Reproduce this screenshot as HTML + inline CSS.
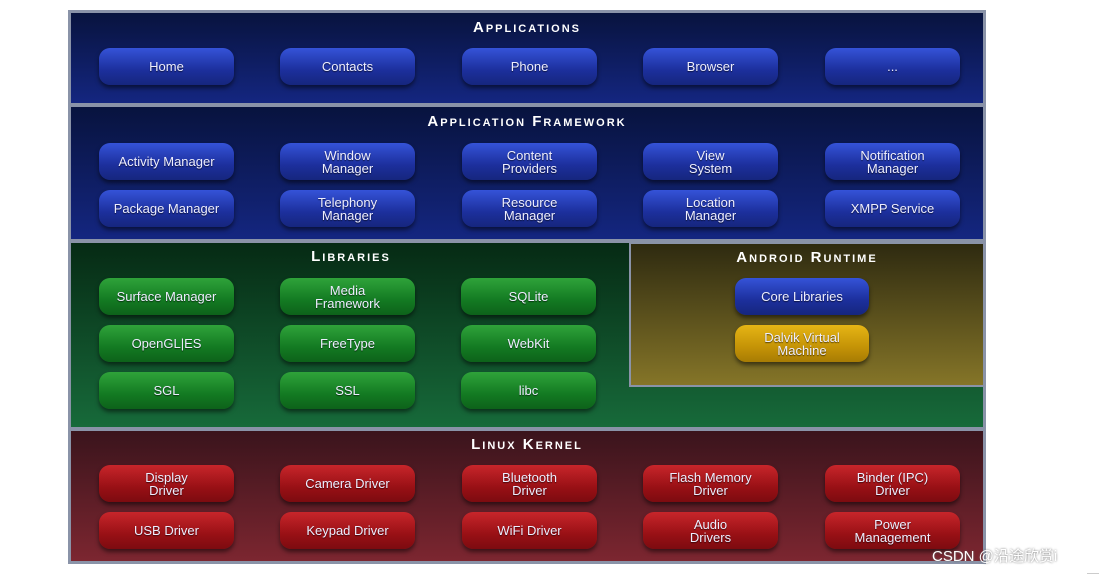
<!DOCTYPE html>
<html><head><meta charset="utf-8"><style>
body{margin:0;width:1099px;height:576px;background:#fff;position:relative;overflow:hidden;font-family:"Liberation Sans","Noto Sans CJK SC",sans-serif}
.sec{position:absolute;box-sizing:border-box;border:2px solid #8a93a8}
.t{position:absolute;left:0;right:0;text-align:center;color:#fff;font-weight:bold;font-size:15px;letter-spacing:2px;font-variant:small-caps}
.b{position:absolute;width:135px;height:37px;border-radius:11px;color:#eef;font-size:13px;line-height:13px;display:flex;align-items:center;justify-content:center;text-align:center;box-shadow:0 3px 4px rgba(0,0,0,.5);text-shadow:0 1px 1px rgba(0,0,0,.6)}
.bl{background:linear-gradient(#3553d8,#1c2f9c 60%,#16267e)}
.gr{background:linear-gradient(#2fa33a,#137a22 60%,#0d621a)}
.rd{background:linear-gradient(#c7262b,#991015 60%,#7c0b10)}
.yl{background:linear-gradient(#e6b515,#c49306 60%,#a77c04)}
</style></head><body>
<div style="position:absolute;left:68px;top:10px;width:918px;height:554px;background:#8a93a8"></div>
<div class="sec" style="left:69px;top:11px;width:916px;height:94px;background:linear-gradient(#08133e,#142680)"><div class="t" style="top:6px">Applications</div></div>
<div class="sec" style="left:69px;top:105px;width:916px;height:136px;background:linear-gradient(#08133e,#142680)"><div class="t" style="top:6px">Application Framework</div></div>
<div class="sec" style="left:69px;top:241px;width:916px;height:188px;background:linear-gradient(#062a14,#176a3a)"><div class="t" style="top:5px;width:560px">Libraries</div></div>
<div class="sec" style="left:629px;top:242px;width:356px;height:145px;background:linear-gradient(#2e2a10,#857528)"><div class="t" style="top:5px">Android Runtime</div></div>
<div class="sec" style="left:69px;top:429px;width:916px;height:134px;background:linear-gradient(#3a141c,#7c2630)"><div class="t" style="top:5px">Linux Kernel</div></div>

<div class="b bl" style="left:99px;top:48px">Home</div>
<div class="b bl" style="left:280px;top:48px">Contacts</div>
<div class="b bl" style="left:462px;top:48px">Phone</div>
<div class="b bl" style="left:643px;top:48px">Browser</div>
<div class="b bl" style="left:825px;top:48px">...</div>

<div class="b bl" style="left:99px;top:143px">Activity Manager</div>
<div class="b bl" style="left:280px;top:143px">Window<br>Manager</div>
<div class="b bl" style="left:462px;top:143px">Content<br>Providers</div>
<div class="b bl" style="left:643px;top:143px">View<br>System</div>
<div class="b bl" style="left:825px;top:143px">Notification<br>Manager</div>
<div class="b bl" style="left:99px;top:190px">Package Manager</div>
<div class="b bl" style="left:280px;top:190px">Telephony<br>Manager</div>
<div class="b bl" style="left:462px;top:190px">Resource<br>Manager</div>
<div class="b bl" style="left:643px;top:190px">Location<br>Manager</div>
<div class="b bl" style="left:825px;top:190px">XMPP Service</div>

<div class="b gr" style="left:99px;top:278px">Surface Manager</div>
<div class="b gr" style="left:280px;top:278px">Media<br>Framework</div>
<div class="b gr" style="left:461px;top:278px">SQLite</div>
<div class="b gr" style="left:99px;top:325px">OpenGL|ES</div>
<div class="b gr" style="left:280px;top:325px">FreeType</div>
<div class="b gr" style="left:461px;top:325px">WebKit</div>
<div class="b gr" style="left:99px;top:372px">SGL</div>
<div class="b gr" style="left:280px;top:372px">SSL</div>
<div class="b gr" style="left:461px;top:372px">libc</div>

<div class="b bl" style="left:735px;top:278px;width:134px">Core Libraries</div>
<div class="b yl" style="left:735px;top:325px;width:134px">Dalvik Virtual<br>Machine</div>

<div class="b rd" style="left:99px;top:465px">Display<br>Driver</div>
<div class="b rd" style="left:280px;top:465px">Camera Driver</div>
<div class="b rd" style="left:462px;top:465px">Bluetooth<br>Driver</div>
<div class="b rd" style="left:643px;top:465px">Flash Memory<br>Driver</div>
<div class="b rd" style="left:825px;top:465px">Binder (IPC)<br>Driver</div>
<div class="b rd" style="left:99px;top:512px">USB Driver</div>
<div class="b rd" style="left:280px;top:512px">Keypad Driver</div>
<div class="b rd" style="left:462px;top:512px">WiFi Driver</div>
<div class="b rd" style="left:643px;top:512px">Audio<br>Drivers</div>
<div class="b rd" style="left:825px;top:512px">Power<br>Management</div>

<div style="position:absolute;left:932px;top:545px;font-size:15px;color:#fff;text-shadow:0 0 2px #666;white-space:nowrap">CSDN @沿途欣赏i</div>
<div style="position:absolute;left:1087px;top:573px;width:12px;height:1px;background:#ccc"></div>
</body></html>
